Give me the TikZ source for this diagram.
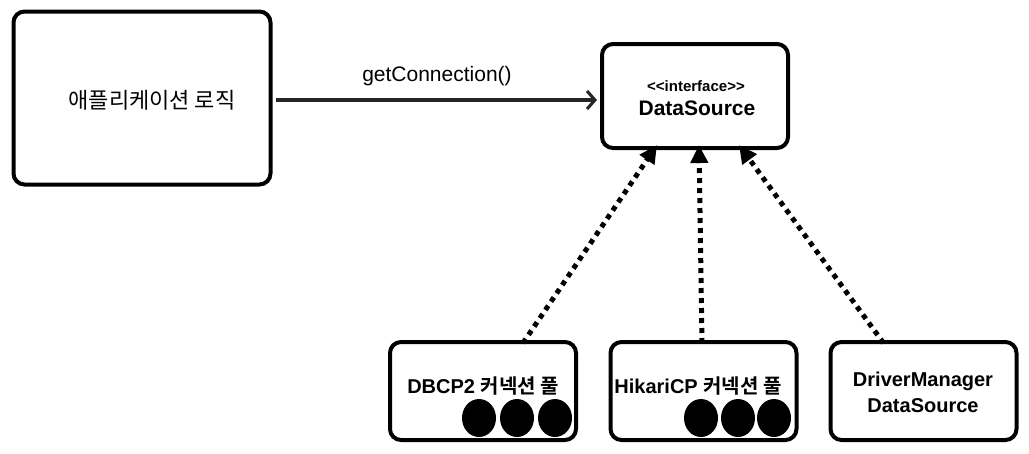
\documentclass[tikz,border=0pt]{standalone}
\usepackage{fontspec}
\setmainfont{Liberation Sans}
\newfontfamily\kr{Noto Sans CJK KR}[BoldFont={* Bold}]
\usetikzlibrary{arrows.meta,calc}
\begin{document}
\begin{tikzpicture}[x=1pt,y=-1pt,
  box/.style={draw, line width=4pt, rounded corners=11pt, fill=white, inner sep=0pt, align=center},
  lbl/.style={inner sep=0pt, align=center},
  dotarrow/.style={line width=5pt, dash pattern=on 5pt off 5pt, -{Triangle[length=18pt,width=17pt]}},
  callarrow/.style={line width=3.5pt, draw=black!85, -{Straight Barb[length=8pt,width=18pt,line width=3pt]}},
]
\useasboundingbox (0,0) rectangle (1029,453);
\node[box, minimum width=257pt, minimum height=173pt] (app) at (142,98) {};
\node[lbl] at (152,100) (apptext) {\fontsize{22pt}{26pt}\selectfont\kr 애플리케이션 로직};
\node[box, minimum width=186pt, minimum height=104pt] (ds) at (695,96) {};
\node[lbl] at (696,86) (iface) {\fontsize{15pt}{18pt}\selectfont\bfseries <{}<interface>{}>};
\node[lbl] at (697,108) (dsname) {\fontsize{21pt}{24pt}\selectfont\bfseries DataSource};
\node[box, minimum width=186pt, minimum height=98pt] (dbcp) at (483,391) {};
\node[box, minimum width=186pt, minimum height=98pt] (hik) at (703.5,391) {};
\node[box, minimum width=186pt, minimum height=98pt] (drv) at (923.5,391) {};
\node[lbl] at (483,386) (dbcptext) {\fontsize{20pt}{24pt}\selectfont\bfseries DBCP2 {\kr 커넥션 풀}};
\node[lbl] at (698,386) (hiktext) {\fontsize{20pt}{24pt}\selectfont\bfseries HikariCP {\kr 커넥션 풀}};
\node[lbl, font=\fontsize{20pt}{26pt}\selectfont\bfseries] at (923,392) (drvtext) {DriverManager\\DataSource};
\foreach \cx in {479,517,555}{
  \fill (\cx,418) ellipse [x radius=17pt, y radius=19pt];
}
\foreach \cx in {701,738,774}{
  \fill (\cx,418) ellipse [x radius=17pt, y radius=19pt];
}
\draw[callarrow] ($(app.east)+(3,2)$) -- ($(app.east -| ds.west)+(-3,2)$);
\node[lbl] at (437,76) (gc) {\fontsize{21pt}{24pt}\selectfont getConnection()};
\draw[dotarrow] ([xshift=40pt,yshift=-3pt]dbcp.north) -- ([xshift=-38pt,yshift=5pt]ds.south);
\draw[dotarrow] ([xshift=-1.5pt,yshift=-3pt]hik.north) -- ([xshift=4pt,yshift=5pt]ds.south);
\draw[dotarrow] ([xshift=-40pt,yshift=-3pt]drv.north) -- ([xshift=44pt,yshift=5pt]ds.south);
\end{tikzpicture}
\end{document}
